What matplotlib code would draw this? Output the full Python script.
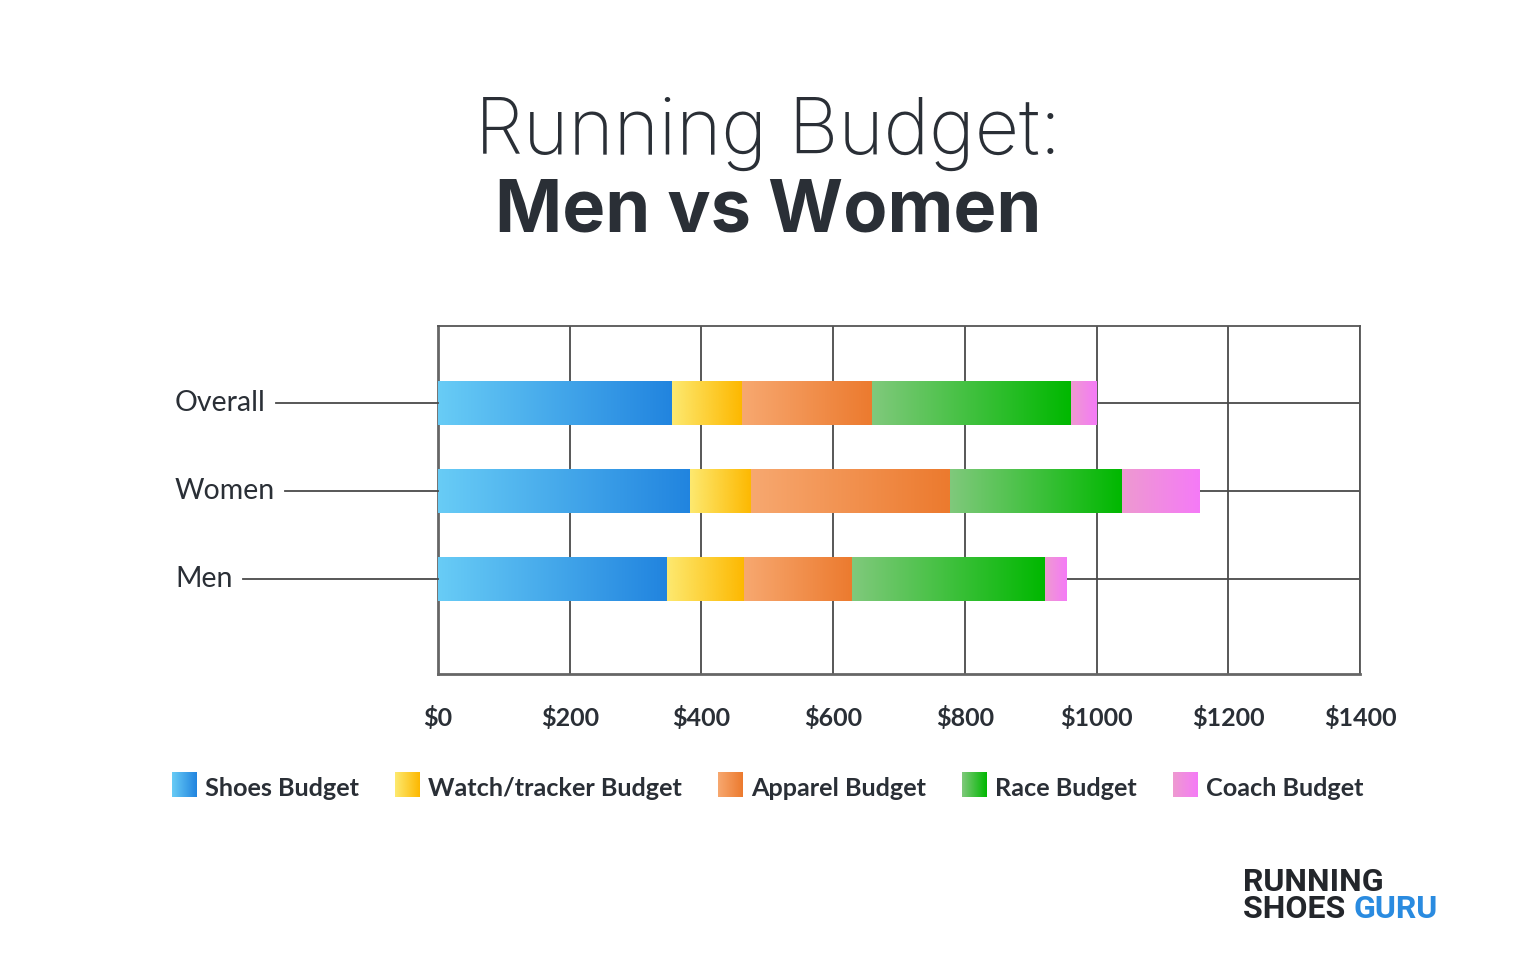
import numpy as np
import matplotlib
matplotlib.use('Agg')
import matplotlib.pyplot as plt
from matplotlib.colors import LinearSegmentedColormap
from matplotlib.lines import Line2D
from matplotlib.transforms import blended_transform_factory

# ---- data ----
groups = ['Men', 'Women', 'Overall']
series = ['Shoes Budget', 'Watch/tracker Budget', 'Apparel Budget', 'Race Budget', 'Coach Budget']
shoes = [347, 383, 356]
watch = [117, 93, 105]
apparel = [165, 301, 198]
race = [292, 261, 302]
coach = [32, 117, 39]
xticks = [0, 200, 400, 600, 800, 1000, 1200, 1400]
xtick_labels = ['\\$0', '\\$200', '\\$400', '\\$600', '\\$800', '\\$1000', '\\$1200', '\\$1400']
grad_start = ['#68ccf6', '#fde970', '#f7a870', '#80c97c', '#ee9ad0']
grad_end = ['#2184df', '#fdb800', '#ec7a2e', '#00b800', '#f57af7']

TXT = '#2a2f36'
W, H = 1536, 974
fig = plt.figure(figsize=(W / 100, H / 100), dpi=100)
fig.patch.set_facecolor('white')
ax = fig.add_axes([438 / W, 1 - 674 / H, 922 / W, 348 / H])

values = [shoes, watch, apparel, race, coach]
ypos = np.arange(len(groups))
left = np.zeros(len(groups))
grad = np.linspace(0, 1, 256).reshape(1, -1)
for vals, c0, c1 in zip(values, grad_start, grad_end):
    vals = np.array(vals, dtype=float)
    bars = ax.barh(ypos, vals, left=left, height=0.49, color='none',
                   edgecolor='none', zorder=3)
    cmap = LinearSegmentedColormap.from_list('g', [c0, c1])
    for b in bars:
        x0, y0, w, h = b.get_x(), b.get_y(), b.get_width(), b.get_height()
        im = ax.imshow(grad, cmap=cmap, extent=[x0, x0 + w, y0, y0 + h],
                       aspect='auto', zorder=3, interpolation='bilinear')
        im.set_clip_path(b)
    left += vals

ax.set_xlim(0, 1400)
ax.set_ylim(-1.08, 2.875)
ax.set_xticks(xticks)
ax.set_xticklabels(xtick_labels, fontsize=18, fontweight='bold',
                   family='Lato', color=TXT)
ax.set_yticks(ypos)
ax.tick_params(axis='x', length=0, pad=23)
ax.tick_params(axis='y', length=0, labelleft=False)
ax.grid(axis='both', color='#4a4a4a', lw=1.3, zorder=1)
ax.set_axisbelow(True)
for s in ['top', 'right']:
    ax.spines[s].set_color('#555555')
    ax.spines[s].set_linewidth(1.3)
for s in ['left', 'bottom']:
    ax.spines[s].set_color('#666666')
    ax.spines[s].set_linewidth(2.0)

# category labels with leader lines
tr = blended_transform_factory(fig.transFigure, ax.transData)
cat_texts = []
for y, g in zip(ypos, groups):
    t = fig.text(175 / W, y, g, transform=tr, ha='left', va='center',
                 fontsize=20.5, family='Lato', color=TXT)
    cat_texts.append(t)

# titles
fig.text(0.5, 1 - 134 / H, 'Running Budget:', ha='center', va='center',
         fontsize=55.5, family='Inter', fontweight='light', color=TXT)
fig.text(0.5, 1 - 213 / H, 'Men vs Women', ha='center', va='center',
         fontsize=52, family='Inter', fontweight='bold', color=TXT)

fig.canvas.draw()
renderer = fig.canvas.get_renderer()
ax_left_px = ax.get_window_extent(renderer).x0
for t, y in zip(cat_texts, ypos):
    bb = t.get_window_extent(renderer)
    x_start = (bb.x1 + 10) / W
    fig.add_artist(Line2D([x_start, ax_left_px / W], [y, y], transform=tr,
                          color='#4a4a4a', lw=1.3))

# legend (manual)
sq = 25
gap_txt = 8
leg_y = 1 - 789 / H
leg_x0, leg_x1 = 172, 1363
widths = []
tmp_texts = []
for name in series:
    t = fig.text(0, leg_y, name, fontsize=18.2, family='Lato', fontweight='bold',
                 color=TXT, va='center', ha='left')
    tmp_texts.append(t)
fig.canvas.draw()
for t in tmp_texts:
    widths.append(t.get_window_extent(renderer).width)
content = sum(sq + gap_txt + w for w in widths)
gap_item = (leg_x1 - leg_x0 - content) / (len(series) - 1)
x = leg_x0
for t, w, c0, c1 in zip(tmp_texts, widths, grad_start, grad_end):
    lax = fig.add_axes([x / W, 1 - 797 / H, sq / W, sq / H])
    lax.imshow(grad, cmap=LinearSegmentedColormap.from_list('l', [c0, c1]),
               aspect='auto', extent=[0, 1, 0, 1])
    lax.axis('off')
    t.set_x((x + sq + gap_txt) / W)
    x += sq + gap_txt + w + gap_item

# logo
lx = 1243 / W
fig.text(lx, 1 - 891 / H, 'RUNNING', fontsize=23, family='Roboto',
         fontweight='bold', color='#23262b', va='baseline', ha='left')
t1 = fig.text(lx, 1 - 918 / H, 'SHOES ', fontsize=23, family='Roboto',
              fontweight='bold', color='#23262b', va='baseline', ha='left')
fig.canvas.draw()
wb = t1.get_window_extent(renderer)
fig.text(wb.x1 / W, 1 - 918 / H, 'GURU', fontsize=23, family='Roboto',
         fontweight='bold', color='#2a8be0', va='baseline', ha='left')

fig.savefig('out.png', dpi=100, facecolor='white')
